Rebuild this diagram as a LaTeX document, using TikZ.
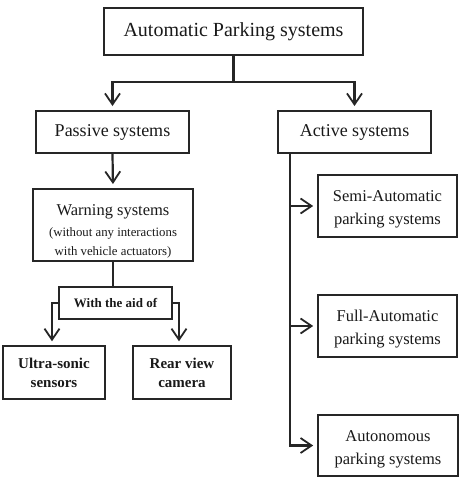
\documentclass[tikz,border=0pt]{standalone}
\usepackage{fontspec}
\setmainfont{Liberation Serif}
\usetikzlibrary{arrows.meta}
\begin{document}
\begin{tikzpicture}[x=1pt,y=-1pt,
  box/.style={draw=black!85,line width=2pt,inner sep=0pt,align=center,text=black!90},
  conn/.style={draw=black!85,line width=2.2pt},
  arr/.style={conn,-{Straight Barb[length=11pt,width=15pt,line width=1.8pt]},shorten >=4pt}]
\useasboundingbox (0,0) rectangle (474,482);
\node[box,minimum width=259pt,minimum height=47pt,font=\fontsize{20}{24}\selectfont] (top) at (233.5,31.5) {Automatic Parking systems};
\node[box,minimum width=153pt,minimum height=42pt,font=\fontsize{18}{22}\selectfont] (pas) at (112.5,132) {Passive systems};
\node[box,minimum width=153pt,minimum height=42pt,font=\fontsize{18}{22}\selectfont] (act) at (354.5,132) {Active systems};
\node[box,minimum width=160pt,minimum height=72pt,font=\fontsize{12.8}{19.5}\selectfont] (warn) at (113,225)
  {\rule{0pt}{24pt}{\fontsize{16.5}{20}\selectfont Warning systems}\\[1pt](without any interactions\\with vehicle actuators)};
\node[box,minimum width=113pt,minimum height=32pt,font=\bfseries\fontsize{13}{16}\selectfont] (with) at (115.5,303) {With the aid of};
\node[box,minimum width=102pt,minimum height=53pt,line width=1.5pt,font=\bfseries\fontsize{15}{19}\selectfont] (ultra) at (54,372.5) {Ultra-sonic\\sensors};
\node[box,minimum width=98pt,minimum height=53pt,line width=1.5pt,font=\bfseries\fontsize{15}{19}\selectfont] (rear) at (182,372.5) {Rear view\\camera};
\node[box,minimum width=139pt,minimum height=62pt,line width=1.7pt,font=\fontsize{16.5}{23}\selectfont] (semi) at (387.5,206) {\rule{0pt}{18pt}Semi-Automatic\\parking systems};
\node[box,minimum width=139pt,minimum height=62pt,line width=1.7pt,font=\fontsize{16.5}{23}\selectfont] (full) at (387.5,326) {\rule{0pt}{18pt}Full-Automatic\\parking systems};
\node[box,minimum width=140pt,minimum height=61pt,line width=1.7pt,font=\fontsize{16.5}{23}\selectfont] (auto) at (388,445.5) {\rule{0pt}{18pt}Autonomous\\parking systems};
% top connectors
\coordinate (j) at ([yshift=-26pt]top.south);
\draw[conn] (top.south) -- (j);
\draw[arr] (j) -| (pas.north);
\draw[arr] (j) -| (act.north);
% passive branch
\draw[arr] (pas.south) -- (warn.north);
\draw[conn] (warn.south) -- (warn.south |- with.north);
\coordinate (ul) at ([xshift=-2pt]ultra.north);
\coordinate (rr) at ([xshift=-3pt]rear.north);
\draw[arr] (with.west) -| (ul);
\draw[arr,line width=2.8pt] (with.east) -| (rr);
% active branch
\coordinate (as) at ([xshift=13pt]act.south west);
\draw[arr] (as) |- (auto.west);
\draw[arr] (as |- semi.west) -- (semi.west);
\draw[arr] (as |- full.west) -- (full.west);
\end{tikzpicture}
\end{document}
